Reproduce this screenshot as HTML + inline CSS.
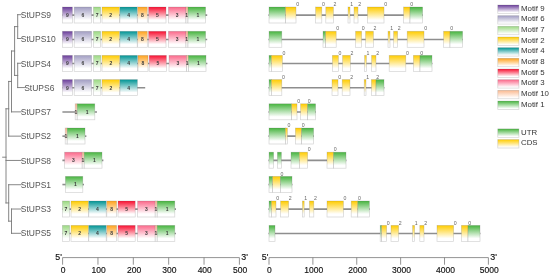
<!DOCTYPE html><html><head><meta charset="utf-8"><title>StUPS motifs and gene structure</title>
<style>html,body{margin:0;padding:0;background:#fff}svg{display:block}text{font-family:"Liberation Sans",Arial,sans-serif}</style></head><body>
<svg width="550" height="277" viewBox="0 0 550 277">
<defs>
<linearGradient id="g9" x1="0" y1="0" x2="0" y2="1"><stop offset="0" stop-color="#6a3d9a"/><stop offset="0.81" stop-color="#fff"/><stop offset="1" stop-color="#fff"/></linearGradient>
<linearGradient id="g6" x1="0" y1="0" x2="0" y2="1"><stop offset="0" stop-color="#a29ec3"/><stop offset="0.81" stop-color="#fff"/><stop offset="1" stop-color="#fff"/></linearGradient>
<linearGradient id="g7" x1="0" y1="0" x2="0" y2="1"><stop offset="0" stop-color="#9bd982"/><stop offset="0.81" stop-color="#fff"/><stop offset="1" stop-color="#fff"/></linearGradient>
<linearGradient id="g2" x1="0" y1="0" x2="0" y2="1"><stop offset="0" stop-color="#ffcc00"/><stop offset="0.81" stop-color="#fff"/><stop offset="1" stop-color="#fff"/></linearGradient>
<linearGradient id="g4" x1="0" y1="0" x2="0" y2="1"><stop offset="0" stop-color="#009494"/><stop offset="0.81" stop-color="#fff"/><stop offset="1" stop-color="#fff"/></linearGradient>
<linearGradient id="g8" x1="0" y1="0" x2="0" y2="1"><stop offset="0" stop-color="#ffa21c"/><stop offset="0.81" stop-color="#fff"/><stop offset="1" stop-color="#fff"/></linearGradient>
<linearGradient id="g5" x1="0" y1="0" x2="0" y2="1"><stop offset="0" stop-color="#f80f30"/><stop offset="0.81" stop-color="#fff"/><stop offset="1" stop-color="#fff"/></linearGradient>
<linearGradient id="g3" x1="0" y1="0" x2="0" y2="1"><stop offset="0" stop-color="#fb688a"/><stop offset="0.81" stop-color="#fff"/><stop offset="1" stop-color="#fff"/></linearGradient>
<linearGradient id="g10" x1="0" y1="0" x2="0" y2="1"><stop offset="0" stop-color="#fbb98f"/><stop offset="0.81" stop-color="#fff"/><stop offset="1" stop-color="#fff"/></linearGradient>
<linearGradient id="g1" x1="0" y1="0" x2="0" y2="1"><stop offset="0" stop-color="#46b43e"/><stop offset="0.81" stop-color="#fff"/><stop offset="1" stop-color="#fff"/></linearGradient>
<linearGradient id="gUTR" x1="0" y1="0" x2="0" y2="1"><stop offset="0" stop-color="#46b43e"/><stop offset="0.81" stop-color="#fff"/><stop offset="1" stop-color="#fff"/></linearGradient>
<linearGradient id="gCDS" x1="0" y1="0" x2="0" y2="1"><stop offset="0" stop-color="#ffcc00"/><stop offset="0.81" stop-color="#fff"/><stop offset="1" stop-color="#fff"/></linearGradient>
<linearGradient id="l9" x1="0" y1="0" x2="0" y2="1"><stop offset="0" stop-color="#6a3d9a"/><stop offset="0.9" stop-color="#fff"/><stop offset="1" stop-color="#fff"/></linearGradient>
<linearGradient id="l6" x1="0" y1="0" x2="0" y2="1"><stop offset="0" stop-color="#a29ec3"/><stop offset="0.9" stop-color="#fff"/><stop offset="1" stop-color="#fff"/></linearGradient>
<linearGradient id="l7" x1="0" y1="0" x2="0" y2="1"><stop offset="0" stop-color="#9bd982"/><stop offset="0.9" stop-color="#fff"/><stop offset="1" stop-color="#fff"/></linearGradient>
<linearGradient id="l2" x1="0" y1="0" x2="0" y2="1"><stop offset="0" stop-color="#ffcc00"/><stop offset="0.9" stop-color="#fff"/><stop offset="1" stop-color="#fff"/></linearGradient>
<linearGradient id="l4" x1="0" y1="0" x2="0" y2="1"><stop offset="0" stop-color="#009494"/><stop offset="0.9" stop-color="#fff"/><stop offset="1" stop-color="#fff"/></linearGradient>
<linearGradient id="l8" x1="0" y1="0" x2="0" y2="1"><stop offset="0" stop-color="#ffa21c"/><stop offset="0.9" stop-color="#fff"/><stop offset="1" stop-color="#fff"/></linearGradient>
<linearGradient id="l5" x1="0" y1="0" x2="0" y2="1"><stop offset="0" stop-color="#f80f30"/><stop offset="0.9" stop-color="#fff"/><stop offset="1" stop-color="#fff"/></linearGradient>
<linearGradient id="l3" x1="0" y1="0" x2="0" y2="1"><stop offset="0" stop-color="#fb688a"/><stop offset="0.9" stop-color="#fff"/><stop offset="1" stop-color="#fff"/></linearGradient>
<linearGradient id="l10" x1="0" y1="0" x2="0" y2="1"><stop offset="0" stop-color="#fbb98f"/><stop offset="0.9" stop-color="#fff"/><stop offset="1" stop-color="#fff"/></linearGradient>
<linearGradient id="l1" x1="0" y1="0" x2="0" y2="1"><stop offset="0" stop-color="#46b43e"/><stop offset="0.9" stop-color="#fff"/><stop offset="1" stop-color="#fff"/></linearGradient>
<linearGradient id="lUTR" x1="0" y1="0" x2="0" y2="1"><stop offset="0" stop-color="#46b43e"/><stop offset="0.9" stop-color="#fff"/><stop offset="1" stop-color="#fff"/></linearGradient>
<linearGradient id="lCDS" x1="0" y1="0" x2="0" y2="1"><stop offset="0" stop-color="#ffcc00"/><stop offset="0.9" stop-color="#fff"/><stop offset="1" stop-color="#fff"/></linearGradient>
</defs>
<rect width="550" height="277" fill="#fff"/>
<g stroke="#787878" stroke-width="0.9" fill="none" stroke-linecap="square">
<line x1="17.70" y1="14.70" x2="21.00" y2="14.70"/>
<line x1="17.70" y1="14.70" x2="17.70" y2="38.50"/>
<line x1="17.70" y1="38.50" x2="21.00" y2="38.50"/>
<line x1="14.60" y1="26.60" x2="17.70" y2="26.60"/>
<line x1="14.60" y1="26.60" x2="14.60" y2="75.43"/>
<line x1="14.60" y1="75.43" x2="17.70" y2="75.43"/>
<line x1="17.70" y1="63.28" x2="21.00" y2="63.28"/>
<line x1="17.70" y1="63.28" x2="17.70" y2="87.57"/>
<line x1="17.70" y1="87.57" x2="24.40" y2="87.57"/>
<line x1="11.50" y1="51.01" x2="14.60" y2="51.01"/>
<line x1="11.50" y1="51.01" x2="11.50" y2="111.86"/>
<line x1="11.50" y1="111.86" x2="21.00" y2="111.86"/>
<line x1="8.70" y1="81.44" x2="11.50" y2="81.44"/>
<line x1="8.70" y1="81.44" x2="8.70" y2="136.15"/>
<line x1="8.70" y1="136.15" x2="21.00" y2="136.15"/>
<line x1="6.00" y1="108.79" x2="8.70" y2="108.79"/>
<line x1="6.00" y1="108.79" x2="6.00" y2="202.95"/>
<line x1="6.00" y1="202.95" x2="8.70" y2="202.95"/>
<line x1="6.00" y1="160.44" x2="21.00" y2="160.44"/>
<line x1="2.70" y1="157.20" x2="6.00" y2="157.20"/>
<line x1="8.70" y1="184.73" x2="21.00" y2="184.73"/>
<line x1="8.70" y1="184.73" x2="8.70" y2="221.16"/>
<line x1="8.70" y1="221.16" x2="11.50" y2="221.16"/>
<line x1="11.50" y1="209.02" x2="21.00" y2="209.02"/>
<line x1="11.50" y1="209.02" x2="11.50" y2="233.31"/>
<line x1="11.50" y1="233.31" x2="21.00" y2="233.31"/>
</g>
<g font-size="8.5" fill="#555">
<text x="20.8" y="18.05">StUPS9</text>
<text x="20.8" y="42.31">StUPS10</text>
<text x="20.8" y="66.57">StUPS4</text>
<text x="24.2" y="90.83">StUPS6</text>
<text x="20.8" y="115.09">StUPS7</text>
<text x="20.8" y="139.35">StUPS2</text>
<text x="20.8" y="163.61">StUPS8</text>
<text x="20.8" y="187.87">StUPS1</text>
<text x="20.8" y="212.13">StUPS3</text>
<text x="20.8" y="236.39">StUPS5</text>
</g>
<line x1="62.4" y1="15.15" x2="207.2" y2="15.15" stroke="#8e8e8e" stroke-width="1.6"/>
<rect x="62.40" y="7.00" width="10.00" height="16.00" fill="url(#g9)" stroke="#707070" stroke-opacity="0.3" stroke-width="0.7"/>
<rect x="74.20" y="7.00" width="17.40" height="16.00" fill="url(#g6)" stroke="#707070" stroke-opacity="0.3" stroke-width="0.7"/>
<rect x="93.50" y="7.00" width="7.10" height="16.00" fill="url(#g7)" stroke="#707070" stroke-opacity="0.3" stroke-width="0.7"/>
<rect x="102.00" y="7.00" width="17.40" height="16.00" fill="url(#g2)" stroke="#707070" stroke-opacity="0.3" stroke-width="0.7"/>
<rect x="119.90" y="7.00" width="17.30" height="16.00" fill="url(#g4)" stroke="#707070" stroke-opacity="0.3" stroke-width="0.7"/>
<rect x="137.70" y="7.00" width="9.60" height="16.00" fill="url(#g8)" stroke="#707070" stroke-opacity="0.3" stroke-width="0.7"/>
<rect x="148.60" y="7.00" width="17.40" height="16.00" fill="url(#g5)" stroke="#707070" stroke-opacity="0.3" stroke-width="0.7"/>
<rect x="168.40" y="7.00" width="17.60" height="16.00" fill="url(#g3)" stroke="#707070" stroke-opacity="0.3" stroke-width="0.7"/>
<rect x="186.00" y="7.00" width="2.00" height="16.00" fill="url(#g10)" stroke="#707070" stroke-opacity="0.3" stroke-width="0.7"/>
<rect x="188.00" y="7.00" width="17.60" height="16.00" fill="url(#g1)" stroke="#707070" stroke-opacity="0.3" stroke-width="0.7"/>
<g font-size="5" font-weight="bold" fill="#3a3a3a" text-anchor="middle">
<text x="67.40" y="16.90">9</text>
<text x="82.90" y="16.90">6</text>
<text x="97.05" y="16.90">7</text>
<text x="110.70" y="16.90">2</text>
<text x="128.55" y="16.90">4</text>
<text x="142.50" y="16.90">8</text>
<text x="157.30" y="16.90">5</text>
<text x="177.20" y="16.90">3</text>
<text x="186.60" y="16.90">1</text>
<text x="198.00" y="16.90">1</text>
</g>
<line x1="62.4" y1="39.45" x2="207.2" y2="39.45" stroke="#8e8e8e" stroke-width="1.6"/>
<rect x="62.40" y="31.30" width="10.00" height="16.00" fill="url(#g9)" stroke="#707070" stroke-opacity="0.3" stroke-width="0.7"/>
<rect x="74.20" y="31.30" width="17.40" height="16.00" fill="url(#g6)" stroke="#707070" stroke-opacity="0.3" stroke-width="0.7"/>
<rect x="93.50" y="31.30" width="7.10" height="16.00" fill="url(#g7)" stroke="#707070" stroke-opacity="0.3" stroke-width="0.7"/>
<rect x="102.00" y="31.30" width="17.40" height="16.00" fill="url(#g2)" stroke="#707070" stroke-opacity="0.3" stroke-width="0.7"/>
<rect x="119.90" y="31.30" width="17.30" height="16.00" fill="url(#g4)" stroke="#707070" stroke-opacity="0.3" stroke-width="0.7"/>
<rect x="137.70" y="31.30" width="9.60" height="16.00" fill="url(#g8)" stroke="#707070" stroke-opacity="0.3" stroke-width="0.7"/>
<rect x="148.60" y="31.30" width="17.40" height="16.00" fill="url(#g5)" stroke="#707070" stroke-opacity="0.3" stroke-width="0.7"/>
<rect x="168.40" y="31.30" width="17.60" height="16.00" fill="url(#g3)" stroke="#707070" stroke-opacity="0.3" stroke-width="0.7"/>
<rect x="186.00" y="31.30" width="2.00" height="16.00" fill="url(#g10)" stroke="#707070" stroke-opacity="0.3" stroke-width="0.7"/>
<rect x="188.00" y="31.30" width="17.60" height="16.00" fill="url(#g1)" stroke="#707070" stroke-opacity="0.3" stroke-width="0.7"/>
<g font-size="5" font-weight="bold" fill="#3a3a3a" text-anchor="middle">
<text x="67.40" y="41.20">9</text>
<text x="82.90" y="41.20">6</text>
<text x="97.05" y="41.20">7</text>
<text x="110.70" y="41.20">2</text>
<text x="128.55" y="41.20">4</text>
<text x="142.50" y="41.20">8</text>
<text x="157.30" y="41.20">5</text>
<text x="177.20" y="41.20">3</text>
<text x="186.60" y="41.20">1</text>
<text x="198.00" y="41.20">1</text>
</g>
<line x1="62.4" y1="63.55" x2="207.4" y2="63.55" stroke="#8e8e8e" stroke-width="1.6"/>
<rect x="62.40" y="55.40" width="10.00" height="16.00" fill="url(#g9)" stroke="#707070" stroke-opacity="0.3" stroke-width="0.7"/>
<rect x="74.20" y="55.40" width="17.40" height="16.00" fill="url(#g6)" stroke="#707070" stroke-opacity="0.3" stroke-width="0.7"/>
<rect x="93.60" y="55.40" width="7.20" height="16.00" fill="url(#g7)" stroke="#707070" stroke-opacity="0.3" stroke-width="0.7"/>
<rect x="102.00" y="55.40" width="17.60" height="16.00" fill="url(#g2)" stroke="#707070" stroke-opacity="0.3" stroke-width="0.7"/>
<rect x="120.00" y="55.40" width="17.40" height="16.00" fill="url(#g4)" stroke="#707070" stroke-opacity="0.3" stroke-width="0.7"/>
<rect x="138.00" y="55.40" width="10.00" height="16.00" fill="url(#g8)" stroke="#707070" stroke-opacity="0.3" stroke-width="0.7"/>
<rect x="149.20" y="55.40" width="17.20" height="16.00" fill="url(#g5)" stroke="#707070" stroke-opacity="0.3" stroke-width="0.7"/>
<rect x="169.00" y="55.40" width="17.60" height="16.00" fill="url(#g3)" stroke="#707070" stroke-opacity="0.3" stroke-width="0.7"/>
<rect x="186.60" y="55.40" width="1.80" height="16.00" fill="url(#g10)" stroke="#707070" stroke-opacity="0.3" stroke-width="0.7"/>
<rect x="188.40" y="55.40" width="17.60" height="16.00" fill="url(#g1)" stroke="#707070" stroke-opacity="0.3" stroke-width="0.7"/>
<g font-size="5" font-weight="bold" fill="#3a3a3a" text-anchor="middle">
<text x="67.40" y="65.30">9</text>
<text x="82.90" y="65.30">6</text>
<text x="97.20" y="65.30">7</text>
<text x="110.80" y="65.30">2</text>
<text x="128.70" y="65.30">4</text>
<text x="143.00" y="65.30">8</text>
<text x="157.80" y="65.30">5</text>
<text x="177.80" y="65.30">3</text>
<text x="187.20" y="65.30">1</text>
<text x="198.40" y="65.30">1</text>
</g>
<line x1="62.4" y1="87.75" x2="145.2" y2="87.75" stroke="#8e8e8e" stroke-width="1.6"/>
<rect x="62.40" y="79.60" width="10.00" height="16.00" fill="url(#g9)" stroke="#707070" stroke-opacity="0.3" stroke-width="0.7"/>
<rect x="74.20" y="79.60" width="17.40" height="16.00" fill="url(#g6)" stroke="#707070" stroke-opacity="0.3" stroke-width="0.7"/>
<rect x="93.60" y="79.60" width="7.20" height="16.00" fill="url(#g7)" stroke="#707070" stroke-opacity="0.3" stroke-width="0.7"/>
<rect x="102.00" y="79.60" width="17.60" height="16.00" fill="url(#g2)" stroke="#707070" stroke-opacity="0.3" stroke-width="0.7"/>
<rect x="120.00" y="79.60" width="17.40" height="16.00" fill="url(#g4)" stroke="#707070" stroke-opacity="0.3" stroke-width="0.7"/>
<g font-size="5" font-weight="bold" fill="#3a3a3a" text-anchor="middle">
<text x="67.40" y="89.50">9</text>
<text x="82.90" y="89.50">6</text>
<text x="97.20" y="89.50">7</text>
<text x="110.80" y="89.50">2</text>
<text x="128.70" y="89.50">4</text>
</g>
<line x1="62.4" y1="111.95" x2="97" y2="111.95" stroke="#8e8e8e" stroke-width="1.6"/>
<rect x="75.20" y="103.80" width="2.00" height="16.00" fill="url(#g10)" stroke="#707070" stroke-opacity="0.3" stroke-width="0.7"/>
<rect x="77.20" y="103.80" width="17.60" height="16.00" fill="url(#g1)" stroke="#707070" stroke-opacity="0.3" stroke-width="0.7"/>
<g font-size="5" font-weight="bold" fill="#3a3a3a" text-anchor="middle">
<text x="75.80" y="113.70">1</text>
<text x="87.20" y="113.70">1</text>
</g>
<line x1="62.4" y1="136.15" x2="86.4" y2="136.15" stroke="#8e8e8e" stroke-width="1.6"/>
<rect x="65.20" y="128.00" width="2.00" height="16.00" fill="url(#g10)" stroke="#707070" stroke-opacity="0.3" stroke-width="0.7"/>
<rect x="67.20" y="128.00" width="17.80" height="16.00" fill="url(#g1)" stroke="#707070" stroke-opacity="0.3" stroke-width="0.7"/>
<g font-size="5" font-weight="bold" fill="#3a3a3a" text-anchor="middle">
<text x="65.80" y="137.90">1</text>
<text x="77.30" y="137.90">1</text>
</g>
<line x1="62.4" y1="160.35" x2="103.4" y2="160.35" stroke="#8e8e8e" stroke-width="1.6"/>
<rect x="64.60" y="152.20" width="17.60" height="16.00" fill="url(#g3)" stroke="#707070" stroke-opacity="0.3" stroke-width="0.7"/>
<rect x="82.20" y="152.20" width="2.00" height="16.00" fill="url(#g10)" stroke="#707070" stroke-opacity="0.3" stroke-width="0.7"/>
<rect x="84.20" y="152.20" width="17.80" height="16.00" fill="url(#g1)" stroke="#707070" stroke-opacity="0.3" stroke-width="0.7"/>
<g font-size="5" font-weight="bold" fill="#3a3a3a" text-anchor="middle">
<text x="73.40" y="162.10">3</text>
<text x="82.80" y="162.10">1</text>
<text x="94.30" y="162.10">1</text>
</g>
<line x1="62.4" y1="184.55" x2="84" y2="184.55" stroke="#8e8e8e" stroke-width="1.6"/>
<rect x="65.40" y="176.40" width="17.40" height="16.00" fill="url(#g1)" stroke="#707070" stroke-opacity="0.3" stroke-width="0.7"/>
<g font-size="5" font-weight="bold" fill="#3a3a3a" text-anchor="middle">
<text x="75.30" y="186.30">1</text>
</g>
<line x1="62.4" y1="209.15" x2="176" y2="209.15" stroke="#8e8e8e" stroke-width="1.6"/>
<rect x="62.40" y="201.00" width="7.20" height="16.00" fill="url(#g7)" stroke="#707070" stroke-opacity="0.3" stroke-width="0.7"/>
<rect x="71.00" y="201.00" width="17.40" height="16.00" fill="url(#g2)" stroke="#707070" stroke-opacity="0.3" stroke-width="0.7"/>
<rect x="88.80" y="201.00" width="17.40" height="16.00" fill="url(#g4)" stroke="#707070" stroke-opacity="0.3" stroke-width="0.7"/>
<rect x="106.80" y="201.00" width="9.80" height="16.00" fill="url(#g8)" stroke="#707070" stroke-opacity="0.3" stroke-width="0.7"/>
<rect x="118.00" y="201.00" width="17.20" height="16.00" fill="url(#g5)" stroke="#707070" stroke-opacity="0.3" stroke-width="0.7"/>
<rect x="137.60" y="201.00" width="17.60" height="16.00" fill="url(#g3)" stroke="#707070" stroke-opacity="0.3" stroke-width="0.7"/>
<rect x="155.20" y="201.00" width="2.00" height="16.00" fill="url(#g10)" stroke="#707070" stroke-opacity="0.3" stroke-width="0.7"/>
<rect x="157.20" y="201.00" width="17.60" height="16.00" fill="url(#g1)" stroke="#707070" stroke-opacity="0.3" stroke-width="0.7"/>
<g font-size="5" font-weight="bold" fill="#3a3a3a" text-anchor="middle">
<text x="66.00" y="210.90">7</text>
<text x="79.70" y="210.90">2</text>
<text x="97.50" y="210.90">4</text>
<text x="111.70" y="210.90">8</text>
<text x="126.60" y="210.90">5</text>
<text x="146.40" y="210.90">3</text>
<text x="155.80" y="210.90">1</text>
<text x="167.20" y="210.90">1</text>
</g>
<line x1="62.4" y1="233.55" x2="176" y2="233.55" stroke="#8e8e8e" stroke-width="1.6"/>
<rect x="62.40" y="225.40" width="7.20" height="16.00" fill="url(#g7)" stroke="#707070" stroke-opacity="0.3" stroke-width="0.7"/>
<rect x="71.00" y="225.40" width="17.40" height="16.00" fill="url(#g2)" stroke="#707070" stroke-opacity="0.3" stroke-width="0.7"/>
<rect x="88.80" y="225.40" width="17.40" height="16.00" fill="url(#g4)" stroke="#707070" stroke-opacity="0.3" stroke-width="0.7"/>
<rect x="106.80" y="225.40" width="9.80" height="16.00" fill="url(#g8)" stroke="#707070" stroke-opacity="0.3" stroke-width="0.7"/>
<rect x="118.00" y="225.40" width="17.20" height="16.00" fill="url(#g5)" stroke="#707070" stroke-opacity="0.3" stroke-width="0.7"/>
<rect x="137.60" y="225.40" width="17.60" height="16.00" fill="url(#g3)" stroke="#707070" stroke-opacity="0.3" stroke-width="0.7"/>
<rect x="155.20" y="225.40" width="2.00" height="16.00" fill="url(#g10)" stroke="#707070" stroke-opacity="0.3" stroke-width="0.7"/>
<rect x="157.20" y="225.40" width="17.60" height="16.00" fill="url(#g1)" stroke="#707070" stroke-opacity="0.3" stroke-width="0.7"/>
<g font-size="5" font-weight="bold" fill="#3a3a3a" text-anchor="middle">
<text x="66.00" y="235.30">7</text>
<text x="79.70" y="235.30">2</text>
<text x="97.50" y="235.30">4</text>
<text x="111.70" y="235.30">8</text>
<text x="126.60" y="235.30">5</text>
<text x="146.40" y="235.30">3</text>
<text x="155.80" y="235.30">1</text>
<text x="167.20" y="235.30">1</text>
</g>
<line x1="268.5" y1="15.15" x2="422.8" y2="15.15" stroke="#8e8e8e" stroke-width="1.6"/>
<rect x="269.00" y="7.00" width="16.60" height="16.00" fill="url(#gUTR)" stroke="#707070" stroke-opacity="0.3" stroke-width="0.7"/>
<rect x="285.60" y="7.00" width="10.40" height="16.00" fill="url(#gCDS)" stroke="#707070" stroke-opacity="0.3" stroke-width="0.7"/>
<rect x="315.60" y="7.00" width="6.20" height="16.00" fill="url(#gCDS)" stroke="#707070" stroke-opacity="0.3" stroke-width="0.7"/>
<rect x="325.80" y="7.00" width="7.60" height="16.00" fill="url(#gCDS)" stroke="#707070" stroke-opacity="0.3" stroke-width="0.7"/>
<rect x="348.00" y="7.00" width="2.00" height="16.00" fill="url(#gCDS)" stroke="#707070" stroke-opacity="0.3" stroke-width="0.7"/>
<rect x="354.00" y="7.00" width="4.00" height="16.00" fill="url(#gCDS)" stroke="#707070" stroke-opacity="0.3" stroke-width="0.7"/>
<rect x="367.40" y="7.00" width="16.60" height="16.00" fill="url(#gCDS)" stroke="#707070" stroke-opacity="0.3" stroke-width="0.7"/>
<rect x="403.60" y="7.00" width="6.40" height="16.00" fill="url(#gCDS)" stroke="#707070" stroke-opacity="0.3" stroke-width="0.7"/>
<rect x="410.00" y="7.00" width="12.60" height="16.00" fill="url(#gUTR)" stroke="#707070" stroke-opacity="0.3" stroke-width="0.7"/>
<g font-size="5.2" fill="#666" text-anchor="middle">
<text x="297.60" y="6.15">0</text>
<text x="323.40" y="6.15">0</text>
<text x="335.00" y="6.15">2</text>
<text x="351.60" y="6.15">1</text>
<text x="359.60" y="6.15">2</text>
<text x="385.60" y="6.15">0</text>
<text x="411.60" y="6.15">0</text>
</g>
<line x1="268.5" y1="39.45" x2="462.8" y2="39.45" stroke="#8e8e8e" stroke-width="1.6"/>
<rect x="269.00" y="31.30" width="12.80" height="16.00" fill="url(#gUTR)" stroke="#707070" stroke-opacity="0.3" stroke-width="0.7"/>
<rect x="323.00" y="31.30" width="2.60" height="16.00" fill="url(#gUTR)" stroke="#707070" stroke-opacity="0.3" stroke-width="0.7"/>
<rect x="325.60" y="31.30" width="10.60" height="16.00" fill="url(#gCDS)" stroke="#707070" stroke-opacity="0.3" stroke-width="0.7"/>
<rect x="355.60" y="31.30" width="6.00" height="16.00" fill="url(#gCDS)" stroke="#707070" stroke-opacity="0.3" stroke-width="0.7"/>
<rect x="365.60" y="31.30" width="7.80" height="16.00" fill="url(#gCDS)" stroke="#707070" stroke-opacity="0.3" stroke-width="0.7"/>
<rect x="388.00" y="31.30" width="2.00" height="16.00" fill="url(#gCDS)" stroke="#707070" stroke-opacity="0.3" stroke-width="0.7"/>
<rect x="393.60" y="31.30" width="4.00" height="16.00" fill="url(#gCDS)" stroke="#707070" stroke-opacity="0.3" stroke-width="0.7"/>
<rect x="407.20" y="31.30" width="16.80" height="16.00" fill="url(#gCDS)" stroke="#707070" stroke-opacity="0.3" stroke-width="0.7"/>
<rect x="443.60" y="31.30" width="6.40" height="16.00" fill="url(#gCDS)" stroke="#707070" stroke-opacity="0.3" stroke-width="0.7"/>
<rect x="450.00" y="31.30" width="12.60" height="16.00" fill="url(#gUTR)" stroke="#707070" stroke-opacity="0.3" stroke-width="0.7"/>
<g font-size="5.2" fill="#666" text-anchor="middle">
<text x="337.80" y="30.45">0</text>
<text x="363.20" y="30.45">0</text>
<text x="375.00" y="30.45">2</text>
<text x="391.60" y="30.45">1</text>
<text x="399.20" y="30.45">2</text>
<text x="425.60" y="30.45">0</text>
<text x="451.60" y="30.45">0</text>
</g>
<line x1="268.5" y1="63.55" x2="432.4" y2="63.55" stroke="#8e8e8e" stroke-width="1.6"/>
<rect x="269.00" y="55.40" width="2.40" height="16.00" fill="url(#gUTR)" stroke="#707070" stroke-opacity="0.3" stroke-width="0.7"/>
<rect x="271.40" y="55.40" width="11.00" height="16.00" fill="url(#gCDS)" stroke="#707070" stroke-opacity="0.3" stroke-width="0.7"/>
<rect x="332.40" y="55.40" width="6.00" height="16.00" fill="url(#gCDS)" stroke="#707070" stroke-opacity="0.3" stroke-width="0.7"/>
<rect x="342.60" y="55.40" width="7.80" height="16.00" fill="url(#gCDS)" stroke="#707070" stroke-opacity="0.3" stroke-width="0.7"/>
<rect x="364.60" y="55.40" width="1.80" height="16.00" fill="url(#gCDS)" stroke="#707070" stroke-opacity="0.3" stroke-width="0.7"/>
<rect x="371.60" y="55.40" width="4.40" height="16.00" fill="url(#gCDS)" stroke="#707070" stroke-opacity="0.3" stroke-width="0.7"/>
<rect x="389.20" y="55.40" width="16.60" height="16.00" fill="url(#gCDS)" stroke="#707070" stroke-opacity="0.3" stroke-width="0.7"/>
<rect x="413.40" y="55.40" width="6.60" height="16.00" fill="url(#gCDS)" stroke="#707070" stroke-opacity="0.3" stroke-width="0.7"/>
<rect x="420.00" y="55.40" width="12.00" height="16.00" fill="url(#gUTR)" stroke="#707070" stroke-opacity="0.3" stroke-width="0.7"/>
<g font-size="5.2" fill="#666" text-anchor="middle">
<text x="284.00" y="54.55">0</text>
<text x="340.00" y="54.55">0</text>
<text x="352.00" y="54.55">2</text>
<text x="368.00" y="54.55">1</text>
<text x="377.60" y="54.55">2</text>
<text x="407.40" y="54.55">0</text>
<text x="421.60" y="54.55">0</text>
</g>
<line x1="268.5" y1="87.75" x2="384.4" y2="87.75" stroke="#8e8e8e" stroke-width="1.6"/>
<rect x="269.00" y="79.60" width="2.40" height="16.00" fill="url(#gUTR)" stroke="#707070" stroke-opacity="0.3" stroke-width="0.7"/>
<rect x="271.40" y="79.60" width="10.40" height="16.00" fill="url(#gCDS)" stroke="#707070" stroke-opacity="0.3" stroke-width="0.7"/>
<rect x="332.00" y="79.60" width="6.00" height="16.00" fill="url(#gCDS)" stroke="#707070" stroke-opacity="0.3" stroke-width="0.7"/>
<rect x="342.20" y="79.60" width="7.80" height="16.00" fill="url(#gCDS)" stroke="#707070" stroke-opacity="0.3" stroke-width="0.7"/>
<rect x="364.20" y="79.60" width="1.80" height="16.00" fill="url(#gCDS)" stroke="#707070" stroke-opacity="0.3" stroke-width="0.7"/>
<rect x="371.40" y="79.60" width="4.60" height="16.00" fill="url(#gCDS)" stroke="#707070" stroke-opacity="0.3" stroke-width="0.7"/>
<rect x="376.00" y="79.60" width="8.00" height="16.00" fill="url(#gUTR)" stroke="#707070" stroke-opacity="0.3" stroke-width="0.7"/>
<g font-size="5.2" fill="#666" text-anchor="middle">
<text x="283.40" y="78.75">0</text>
<text x="339.60" y="78.75">0</text>
<text x="351.60" y="78.75">2</text>
<text x="367.60" y="78.75">1</text>
<text x="377.60" y="78.75">2</text>
</g>
<line x1="268.5" y1="111.95" x2="316" y2="111.95" stroke="#8e8e8e" stroke-width="1.6"/>
<rect x="269.00" y="103.80" width="22.60" height="16.00" fill="url(#gUTR)" stroke="#707070" stroke-opacity="0.3" stroke-width="0.7"/>
<rect x="291.60" y="103.80" width="5.40" height="16.00" fill="url(#gCDS)" stroke="#707070" stroke-opacity="0.3" stroke-width="0.7"/>
<rect x="300.60" y="103.80" width="7.00" height="16.00" fill="url(#gCDS)" stroke="#707070" stroke-opacity="0.3" stroke-width="0.7"/>
<rect x="307.60" y="103.80" width="8.00" height="16.00" fill="url(#gUTR)" stroke="#707070" stroke-opacity="0.3" stroke-width="0.7"/>
<g font-size="5.2" fill="#666" text-anchor="middle">
<text x="298.60" y="102.95">0</text>
<text x="309.20" y="102.95">0</text>
</g>
<line x1="268.5" y1="136.15" x2="314" y2="136.15" stroke="#8e8e8e" stroke-width="1.6"/>
<rect x="269.00" y="128.00" width="16.40" height="16.00" fill="url(#gUTR)" stroke="#707070" stroke-opacity="0.3" stroke-width="0.7"/>
<rect x="285.40" y="128.00" width="2.00" height="16.00" fill="url(#gCDS)" stroke="#707070" stroke-opacity="0.3" stroke-width="0.7"/>
<rect x="295.40" y="128.00" width="6.20" height="16.00" fill="url(#gCDS)" stroke="#707070" stroke-opacity="0.3" stroke-width="0.7"/>
<rect x="301.60" y="128.00" width="12.00" height="16.00" fill="url(#gUTR)" stroke="#707070" stroke-opacity="0.3" stroke-width="0.7"/>
<g font-size="5.2" fill="#666" text-anchor="middle">
<text x="289.00" y="127.15">0</text>
<text x="303.20" y="127.15">0</text>
</g>
<line x1="268.5" y1="160.35" x2="346.4" y2="160.35" stroke="#8e8e8e" stroke-width="1.6"/>
<rect x="269.00" y="152.20" width="4.60" height="16.00" fill="url(#gUTR)" stroke="#707070" stroke-opacity="0.3" stroke-width="0.7"/>
<rect x="277.40" y="152.20" width="4.00" height="16.00" fill="url(#gUTR)" stroke="#707070" stroke-opacity="0.3" stroke-width="0.7"/>
<rect x="291.00" y="152.20" width="8.40" height="16.00" fill="url(#gUTR)" stroke="#707070" stroke-opacity="0.3" stroke-width="0.7"/>
<rect x="299.40" y="152.20" width="8.20" height="16.00" fill="url(#gCDS)" stroke="#707070" stroke-opacity="0.3" stroke-width="0.7"/>
<rect x="327.00" y="152.20" width="6.60" height="16.00" fill="url(#gCDS)" stroke="#707070" stroke-opacity="0.3" stroke-width="0.7"/>
<rect x="333.60" y="152.20" width="12.40" height="16.00" fill="url(#gUTR)" stroke="#707070" stroke-opacity="0.3" stroke-width="0.7"/>
<g font-size="5.2" fill="#666" text-anchor="middle">
<text x="309.20" y="151.35">0</text>
<text x="335.20" y="151.35">0</text>
</g>
<line x1="268.5" y1="184.55" x2="292.4" y2="184.55" stroke="#8e8e8e" stroke-width="1.6"/>
<rect x="269.00" y="176.40" width="3.60" height="16.00" fill="url(#gUTR)" stroke="#707070" stroke-opacity="0.3" stroke-width="0.7"/>
<rect x="272.60" y="176.40" width="7.80" height="16.00" fill="url(#gCDS)" stroke="#707070" stroke-opacity="0.3" stroke-width="0.7"/>
<rect x="280.40" y="176.40" width="11.60" height="16.00" fill="url(#gUTR)" stroke="#707070" stroke-opacity="0.3" stroke-width="0.7"/>
<g font-size="5.2" fill="#666" text-anchor="middle">
<text x="282.00" y="175.55">0</text>
</g>
<line x1="268.5" y1="209.15" x2="369.8" y2="209.15" stroke="#8e8e8e" stroke-width="1.6"/>
<rect x="269.00" y="201.00" width="2.40" height="16.00" fill="url(#gUTR)" stroke="#707070" stroke-opacity="0.3" stroke-width="0.7"/>
<rect x="271.40" y="201.00" width="4.60" height="16.00" fill="url(#gCDS)" stroke="#707070" stroke-opacity="0.3" stroke-width="0.7"/>
<rect x="280.60" y="201.00" width="8.00" height="16.00" fill="url(#gCDS)" stroke="#707070" stroke-opacity="0.3" stroke-width="0.7"/>
<rect x="302.40" y="201.00" width="1.80" height="16.00" fill="url(#gCDS)" stroke="#707070" stroke-opacity="0.3" stroke-width="0.7"/>
<rect x="309.40" y="201.00" width="4.40" height="16.00" fill="url(#gCDS)" stroke="#707070" stroke-opacity="0.3" stroke-width="0.7"/>
<rect x="327.00" y="201.00" width="16.40" height="16.00" fill="url(#gCDS)" stroke="#707070" stroke-opacity="0.3" stroke-width="0.7"/>
<rect x="351.20" y="201.00" width="6.60" height="16.00" fill="url(#gCDS)" stroke="#707070" stroke-opacity="0.3" stroke-width="0.7"/>
<rect x="357.80" y="201.00" width="11.60" height="16.00" fill="url(#gUTR)" stroke="#707070" stroke-opacity="0.3" stroke-width="0.7"/>
<g font-size="5.2" fill="#666" text-anchor="middle">
<text x="277.60" y="200.15">0</text>
<text x="290.20" y="200.15">2</text>
<text x="305.80" y="200.15">1</text>
<text x="315.40" y="200.15">2</text>
<text x="345.00" y="200.15">0</text>
<text x="359.40" y="200.15">0</text>
</g>
<line x1="268.5" y1="233.55" x2="480.4" y2="233.55" stroke="#8e8e8e" stroke-width="1.6"/>
<rect x="269.00" y="225.40" width="6.00" height="16.00" fill="url(#gUTR)" stroke="#707070" stroke-opacity="0.3" stroke-width="0.7"/>
<rect x="380.20" y="225.40" width="1.40" height="16.00" fill="url(#gUTR)" stroke="#707070" stroke-opacity="0.3" stroke-width="0.7"/>
<rect x="381.60" y="225.40" width="5.00" height="16.00" fill="url(#gCDS)" stroke="#707070" stroke-opacity="0.3" stroke-width="0.7"/>
<rect x="391.00" y="225.40" width="7.60" height="16.00" fill="url(#gCDS)" stroke="#707070" stroke-opacity="0.3" stroke-width="0.7"/>
<rect x="412.60" y="225.40" width="2.00" height="16.00" fill="url(#gCDS)" stroke="#707070" stroke-opacity="0.3" stroke-width="0.7"/>
<rect x="419.80" y="225.40" width="4.20" height="16.00" fill="url(#gCDS)" stroke="#707070" stroke-opacity="0.3" stroke-width="0.7"/>
<rect x="437.00" y="225.40" width="16.60" height="16.00" fill="url(#gCDS)" stroke="#707070" stroke-opacity="0.3" stroke-width="0.7"/>
<rect x="461.40" y="225.40" width="6.60" height="16.00" fill="url(#gCDS)" stroke="#707070" stroke-opacity="0.3" stroke-width="0.7"/>
<rect x="468.00" y="225.40" width="12.00" height="16.00" fill="url(#gUTR)" stroke="#707070" stroke-opacity="0.3" stroke-width="0.7"/>
<g font-size="5.2" fill="#666" text-anchor="middle">
<text x="388.20" y="224.55">0</text>
<text x="400.20" y="224.55">2</text>
<text x="416.20" y="224.55">1</text>
<text x="425.60" y="224.55">2</text>
<text x="455.20" y="224.55">0</text>
<text x="469.60" y="224.55">0</text>
</g>
<g stroke="#777" stroke-width="0.8" fill="none">
<line x1="62.6" y1="257.6" x2="239.4" y2="257.6"/>
<line x1="62.60" y1="257.6" x2="62.60" y2="264.70000000000005"/>
<line x1="97.96" y1="257.6" x2="97.96" y2="264.70000000000005"/>
<line x1="133.32" y1="257.6" x2="133.32" y2="264.70000000000005"/>
<line x1="168.68" y1="257.6" x2="168.68" y2="264.70000000000005"/>
<line x1="204.04" y1="257.6" x2="204.04" y2="264.70000000000005"/>
<line x1="239.40" y1="257.6" x2="239.40" y2="264.70000000000005"/>
</g>
<g font-size="8.5" fill="#111" stroke="#111" stroke-width="0.15" text-anchor="middle">
<text x="63.00" y="273.2">0</text>
<text x="98.66" y="273.2">100</text>
<text x="134.02" y="273.2">200</text>
<text x="169.38" y="273.2">300</text>
<text x="204.74" y="273.2">400</text>
<text x="240.10" y="273.2">500</text>
</g>
<text x="62.0" y="259.6" font-size="8.9" fill="#111" stroke="#111" stroke-width="0.15" text-anchor="end">5'</text>
<text x="241.3" y="259.6" font-size="8.9" fill="#111" stroke="#111" stroke-width="0.15">3'</text>
<g stroke="#777" stroke-width="0.8" fill="none">
<line x1="269" y1="257.6" x2="488.4" y2="257.6"/>
<line x1="269.00" y1="257.6" x2="269.00" y2="264.70000000000005"/>
<line x1="312.88" y1="257.6" x2="312.88" y2="264.70000000000005"/>
<line x1="356.76" y1="257.6" x2="356.76" y2="264.70000000000005"/>
<line x1="400.64" y1="257.6" x2="400.64" y2="264.70000000000005"/>
<line x1="444.52" y1="257.6" x2="444.52" y2="264.70000000000005"/>
<line x1="488.40" y1="257.6" x2="488.40" y2="264.70000000000005"/>
</g>
<g font-size="8.5" fill="#111" stroke="#111" stroke-width="0.15" text-anchor="middle">
<text x="269.40" y="273.2">0</text>
<text x="313.78" y="273.2">1000</text>
<text x="357.66" y="273.2">2000</text>
<text x="401.54" y="273.2">3000</text>
<text x="445.42" y="273.2">4000</text>
<text x="489.30" y="273.2">5000</text>
</g>
<text x="268.4" y="259.6" font-size="8.9" fill="#111" stroke="#111" stroke-width="0.15" text-anchor="end">5'</text>
<text x="490.29999999999995" y="259.6" font-size="8.9" fill="#111" stroke="#111" stroke-width="0.15">3'</text>
<rect x="497.8" y="5.00" width="21.1" height="8.4" fill="url(#l9)" stroke="#707070" stroke-opacity="0.3" stroke-width="0.7"/>
<text x="521.0" y="10.60" font-size="7.85" fill="#333">Motif 9</text>
<rect x="497.8" y="15.67" width="21.1" height="8.4" fill="url(#l6)" stroke="#707070" stroke-opacity="0.3" stroke-width="0.7"/>
<text x="521.0" y="21.27" font-size="7.85" fill="#333">Motif 6</text>
<rect x="497.8" y="26.34" width="21.1" height="8.4" fill="url(#l7)" stroke="#707070" stroke-opacity="0.3" stroke-width="0.7"/>
<text x="521.0" y="31.94" font-size="7.85" fill="#333">Motif 7</text>
<rect x="497.8" y="37.01" width="21.1" height="8.4" fill="url(#l2)" stroke="#707070" stroke-opacity="0.3" stroke-width="0.7"/>
<text x="521.0" y="42.61" font-size="7.85" fill="#333">Motif 2</text>
<rect x="497.8" y="47.68" width="21.1" height="8.4" fill="url(#l4)" stroke="#707070" stroke-opacity="0.3" stroke-width="0.7"/>
<text x="521.0" y="53.28" font-size="7.85" fill="#333">Motif 4</text>
<rect x="497.8" y="58.35" width="21.1" height="8.4" fill="url(#l8)" stroke="#707070" stroke-opacity="0.3" stroke-width="0.7"/>
<text x="521.0" y="63.95" font-size="7.85" fill="#333">Motif 8</text>
<rect x="497.8" y="69.02" width="21.1" height="8.4" fill="url(#l5)" stroke="#707070" stroke-opacity="0.3" stroke-width="0.7"/>
<text x="521.0" y="74.62" font-size="7.85" fill="#333">Motif 5</text>
<rect x="497.8" y="79.69" width="21.1" height="8.4" fill="url(#l3)" stroke="#707070" stroke-opacity="0.3" stroke-width="0.7"/>
<text x="521.0" y="85.29" font-size="7.85" fill="#333">Motif 3</text>
<rect x="497.8" y="90.36" width="21.1" height="8.4" fill="url(#l10)" stroke="#707070" stroke-opacity="0.3" stroke-width="0.7"/>
<text x="521.0" y="95.96" font-size="7.85" fill="#333">Motif 10</text>
<rect x="497.8" y="101.03" width="21.1" height="8.4" fill="url(#l1)" stroke="#707070" stroke-opacity="0.3" stroke-width="0.7"/>
<text x="521.0" y="106.63" font-size="7.85" fill="#333">Motif 1</text>
<rect x="497.8" y="128.90" width="21.1" height="8.4" fill="url(#lUTR)" stroke="#707070" stroke-opacity="0.3" stroke-width="0.7"/>
<text x="521.0" y="134.50" font-size="7.85" fill="#333">UTR</text>
<rect x="497.8" y="139.60" width="21.1" height="8.4" fill="url(#lCDS)" stroke="#707070" stroke-opacity="0.3" stroke-width="0.7"/>
<text x="521.0" y="145.20" font-size="7.85" fill="#333">CDS</text>
</svg></body></html>
